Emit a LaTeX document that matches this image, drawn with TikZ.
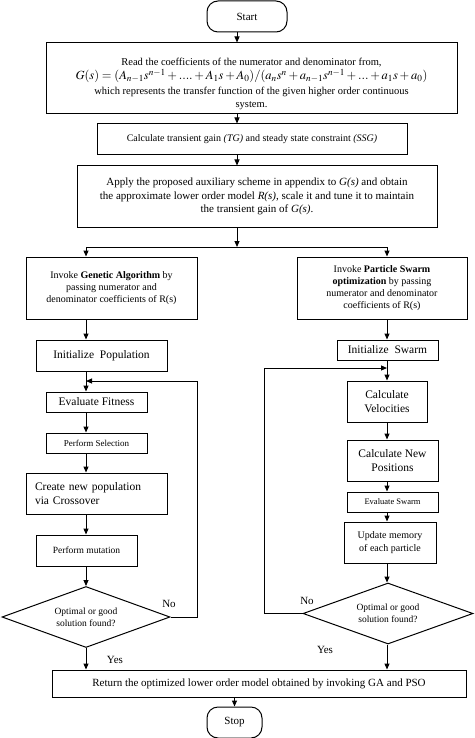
\documentclass[tikz,border=0pt]{standalone}
\usepackage{mathptmx}
\usepackage{fontspec}
\setmainfont{Liberation Serif}
\usetikzlibrary{arrows.meta, positioning, calc, shapes.geometric}

\newcommand{\fsz}[1]{\fontsize{#1}{1.22\dimexpr#1pt\relax}\selectfont}

\begin{document}
\begin{tikzpicture}[x=1pt, y=-1pt, line width=1pt,
    >={Triangle[length=6pt, width=5pt]},
    every node/.style={inner sep=0pt, align=center},
    proc/.style n args={2}{draw, rectangle, minimum width=#1, minimum height=#2},
    term/.style={draw, rounded corners=11pt, minimum width=#1, minimum height=31},
    dec/.style={draw, diamond, aspect=2.8, minimum width=#1, minimum height=61},
    lbl/.style={font=\fsz{11}}]
    \path[use as bounding box, fill=white] (0,0) rectangle (474,738);

    % columns of the arrows
    \coordinate (mid) at (237,0);
    \coordinate (gacol) at (86,0);
    \coordinate (psocol) at (387,0);

    % common part
    \node[term=80, font=\fsz{11}] (start) at (247,16.5) {Start};
    \node[proc={411}{71}, font=\fsz{10.5}] (read) at (251.5,78.5)
        {\rule{0pt}{18pt}Read the coefficients of the numerator and denominator from,\\[2pt]
         {\fsz{12.5}$G(s)=(A_{n-1}s^{n-1}+....+A_1s+A_0)/(a_ns^n+a_{n-1}s^{n-1}+...+a_1s+a_0)$}\\[2pt]
         which represents the transfer function of the given higher order continuous\\ system.};
    \node[proc={310}{31}, font=\fsz{10}] (calc) at (252,139.5)
        {Calculate transient gain \textit{(TG)} and steady state constraint \textit{(SSG)}};
    \node[proc={360}{61}, font=\fsz{11}] (apply) at (257,196.5)
        {Apply the proposed auxiliary scheme in appendix to \textit{G(s)} and obtain\\
         the approximate lower order model \textit{R(s)}, scale it and tune it to maintain\\
         the transient gain of \textit{G(s)}.};
    \coordinate (split) at (237,247);

    % genetic algorithm
    \node[proc={171}{62}, font=\fsz{10}] (ga) at (111.5,288)
        {Invoke \textbf{Genetic Algorithm} by\\ passing numerator and\\ denominator coefficients of R(s)};
    \node[proc={131}{31}, font=\fsz{11.5}] (gainit) at (101.5,355.5) {Initialize~ Population};
    \node[proc={101}{20}, font=\fsz{11.5}] (gaeval) at (96.5,402) {Evaluate Fitness};
    \node[proc={101}{20}, font=\fsz{9}] (gasel) at (96.5,443) {Perform Selection};
    \node[proc={141}{41}, font=\fsz{11.5}, align=left, text width=123] (gacross) at (96.5,493.5)
        {Create new population\\ via Crossover};
    \node[proc={101}{31}, font=\fsz{9.5}] (gamut) at (86.5,550.5) {Perform mutation};
    \node[dec=168, font=\fsz{9.5}] (gadec) at (86,617) {Optimal or good\\ solution found?};
    \coordinate (garet) at (197,381);
    \coordinate (gaback) at (86,381);

    % particle swarm optimization
    \node[proc={170}{62}, font=\fsz{10}] (pso) at (382,288)
        {Invoke \textbf{Particle Swarm}\\ \textbf{optimization} by passing\\ numerator and denominator\\ coefficients of R(s)};
    \node[proc={101}{20}, font=\fsz{11.5}] (psoinit) at (387.5,350) {Initialize~ Swarm};
    \node[proc={80}{41}, font=\fsz{11.5}] (psovel) at (387,401.5) {Calculate\\ Velocities};
    \node[proc={91}{41}, font=\fsz{11.5}] (psopos) at (392.5,460.5) {Calculate New\\ Positions};
    \node[proc={91}{20}, font=\fsz{8.5}] (psoeval) at (392.5,502) {Evaluate Swarm};
    \node[proc={92}{41}, font=\fsz{10}] (psomem) at (390,542.5) {Update memory\\ of each particle};
    \node[dec=170, font=\fsz{9.5}] (psodec) at (388,613.5) {Optimal or good\\ solution found?};
    \coordinate (psoret) at (264,368);
    \coordinate (psoback) at (387,368);

    % end
    \node[proc={414}{27}, font=\fsz{11}] (ret) at (259,683.5)
        {Return the optimized lower order model obtained by invoking GA and PSO};
    \node[term=55, font=\fsz{11}] (stop) at (234.5,722.5) {Stop};

    % connectors
    \draw[->] (start.south -| mid) -- (read.north -| mid);
    \draw[->] (read.south -| mid) -- (calc.north -| mid);
    \draw[->] (calc.south -| mid) -- (apply.north -| mid);
    \draw[->] (apply.south -| mid) -- (split);
    \draw (split -| gacol) -- (split -| psocol);
    \draw[->] (split -| gacol) -- (ga.north -| gacol);
    \draw[->] (split -| psocol) -- (pso.north -| psocol);

    \draw[->] (ga.south -| gacol) -- (gainit.north -| gacol);
    \draw[->] (gainit.south -| gacol) -- (gaeval.north -| gacol);
    \draw[->] (gaeval.south -| gacol) -- (gasel.north -| gacol);
    \draw[->] (gasel.south -| gacol) -- (gacross.north -| gacol);
    \draw[->] (gacross.south -| gacol) -- (gamut.north -| gacol);
    \draw[->] (gamut.south -| gacol) -- (gadec.north);
    \draw[->] (gadec.east) -| (garet) -- (gaback);
    \draw[->] (gadec.south) -- (ret.north -| gacol);

    \draw[->] (pso.south -| psocol) -- (psoinit.north -| psocol);
    \draw[->] (psoinit.south -| psocol) -- (psovel.north -| psocol);
    \draw[->] (psovel.south -| psocol) -- (psopos.north -| psocol);
    \draw[->] (psopos.south -| psocol) -- (psoeval.north -| psocol);
    \draw[->] (psoeval.south -| psocol) -- (psomem.north -| psocol);
    \draw[->] (psomem.south -| psocol) -- (psodec.north -| psocol);
    \draw[->] (psodec.west) -| (psoret) -- (psoback);
    \draw[->] (psodec.south -| psocol) -- (ret.north -| psocol);

    \draw[->] (ret.south -| stop) -- (stop.north);

    % labels
    \node[lbl] (ganolbl) at (169,604) {No};
    \node[lbl] (gayeslbl) at (115,660) {Yes};
    \node[lbl] (psonolbl) at (307,601) {No};
    \node[lbl] (psoyeslbl) at (325,650) {Yes};
\end{tikzpicture}
\end{document}
